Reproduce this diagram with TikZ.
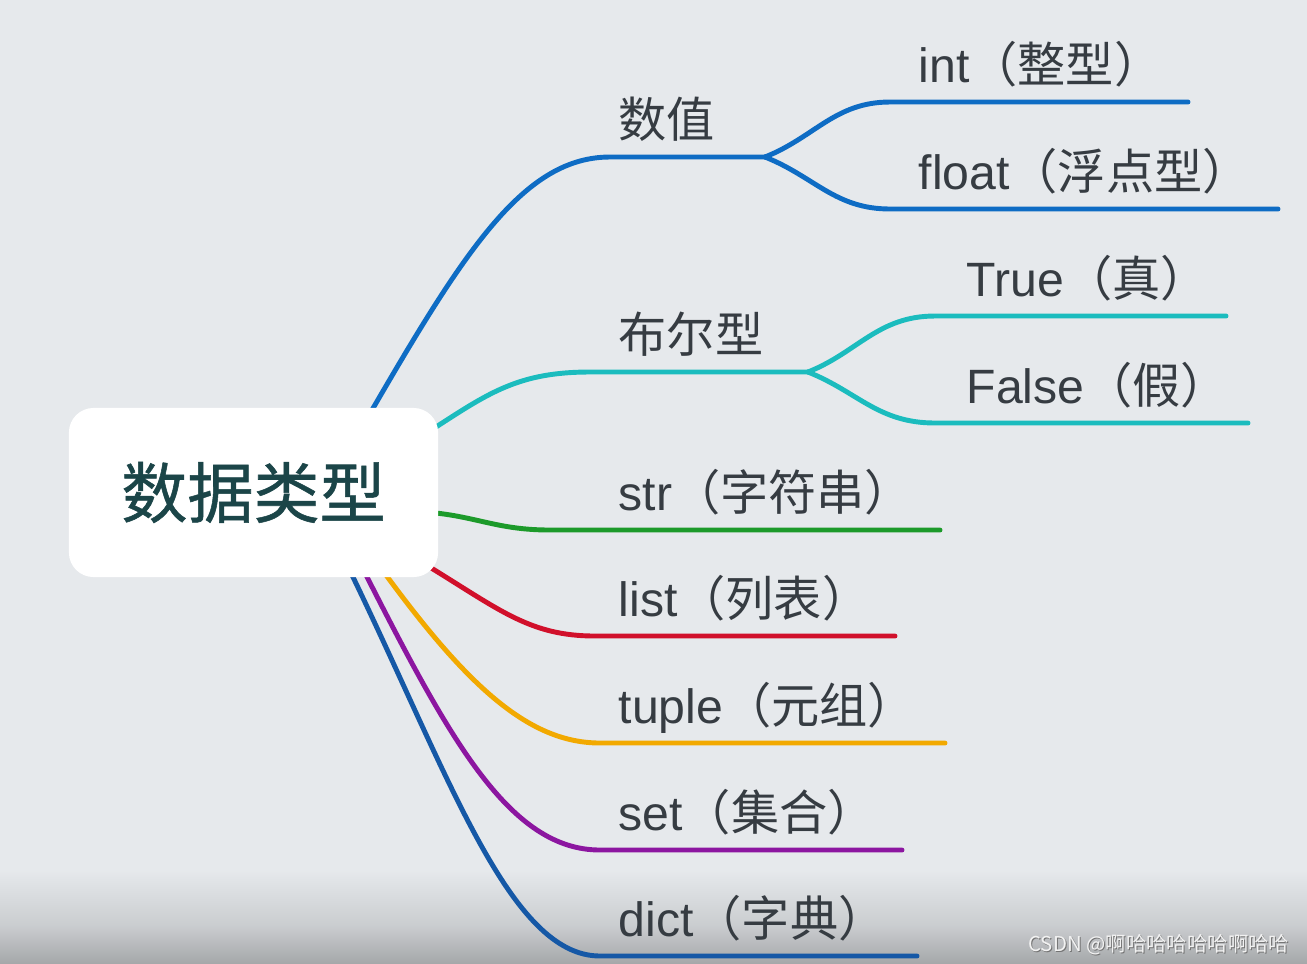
\documentclass[tikz,border=0pt]{standalone}
\usepackage{fontspec}
\setmainfont{Liberation Sans}
\newfontfamily\cjk{Noto Sans CJK SC}
\newfontfamily\rootcjk[FakeBold=0.8]{Noto Sans CJK SC}
\usepackage{tikz}
\usetikzlibrary{backgrounds}
\usepackage{xcolor}
\definecolor{bgGray}{HTML}{E6E9EC}
\definecolor{txtGray}{HTML}{363C42}
\definecolor{rootTeal}{HTML}{1B4548}
\definecolor{numBlue}{HTML}{0E6CC4}
\definecolor{boolCyan}{HTML}{1BBCBE}
\definecolor{strGreen}{HTML}{1C9A2A}
\definecolor{listRed}{HTML}{D1102B}
\definecolor{tupleOrange}{HTML}{F2A900}
\definecolor{setPurple}{HTML}{8C16A0}
\definecolor{dictBlue}{HTML}{1558A6}
\tikzset{%
	root box/.style={
		fill=white,
		rounded corners=7pt,
		minimum width=3.69cm,
		minimum height=1.69cm,
		text=rootTeal,
		font=\rootcjk\fontsize{18.8}{22}\selectfont
	},
	branch/.style={
		line width=1.4pt,
		line cap=round
	},
	branch text/.style={
		anchor=base west,
		inner sep=0pt,
		text=txtGray,
		font=\fontsize{13.7}{16}\selectfont
	},
}

\begin{document}
\begin{tikzpicture}[x=0.01cm, y=-0.01cm]
			\useasboundingbox (0,0) rectangle (1307,963);
			% Draw the background
			\begin{scope}[on background layer]
				\fill[bgGray] (0,0) rectangle (1307,963);
				\shade[top color=bgGray, bottom color=bgGray!88!black] (0,870) rectangle (1307,925);
				\shade[top color=bgGray!88!black, bottom color=bgGray!72!black] (0,925) rectangle (1307,963);
			\end{scope}
			
			% Draw the root
			\node[root box] (root) at (253.5,492.5) {数据类型};
			
			% Draw the labels
			\node[branch text] (num) at (618,137) {\cjk 数值};
			\node[branch text] (int) at (918,82) {int{\cjk（整型）}};
			\node[branch text] (float) at (918,189) {float{\cjk（浮点型）}};
			\node[branch text] (bool) at (618,352) {\cjk 布尔型};
			\node[branch text] (true) at (966,296) {True{\cjk（真）}};
			\node[branch text] (false) at (966,403) {False{\cjk（假）}};
			\node[branch text] (str) at (618,510) {str{\cjk（字符串）}};
			\node[branch text] (list) at (618,616) {list{\cjk（列表）}};
			\node[branch text] (tuple) at (618,723) {tuple{\cjk（元组）}};
			\node[branch text] (set) at (618,830) {set{\cjk（集合）}};
			\node[branch text] (dict) at (618,936) {dict{\cjk（字典）}};
			
			% Draw the branch ends
			\coordinate (numStart) at (372,410);
			\coordinate (numFork) at (765,157);
			\coordinate (intEnd) at (1188,102);
			\coordinate (floatEnd) at (1278,209);
			\coordinate (boolStart) at (436,427);
			\coordinate (boolFork) at (808,372);
			\coordinate (trueEnd) at (1226,316);
			\coordinate (falseEnd) at (1248,423);
			\coordinate (strStart) at (436,513);
			\coordinate (strEnd) at (940,530);
			\coordinate (listStart) at (428,566);
			\coordinate (listEnd) at (895,636);
			\coordinate (tupleStart) at (386,575);
			\coordinate (tupleEnd) at (945,743);
			\coordinate (setStart) at (366,575);
			\coordinate (setEnd) at (902,850);
			\coordinate (dictStart) at (352,575);
			\coordinate (dictEnd) at (917,956);
			
			% Draw the branches
			\begin{scope}[on background layer]
				\draw[branch, numBlue] (numStart) .. controls (466,248) and (525,157) .. (610,157) -- (numFork);
				\draw[branch, numBlue] (numFork) .. controls (815,137) and (835,102) .. (890,102) -- (intEnd);
				\draw[branch, numBlue] (numFork) .. controls (815,177) and (835,209) .. (890,209) -- (floatEnd);
				
				\draw[branch, boolCyan] (boolStart) .. controls (490,392) and (520,372) .. (590,372) -- (boolFork);
				\draw[branch, boolCyan] (boolFork) .. controls (858,352) and (878,316) .. (935,316) -- (trueEnd);
				\draw[branch, boolCyan] (boolFork) .. controls (858,392) and (878,423) .. (935,423) -- (falseEnd);
				
				\draw[branch, strGreen] (strStart) .. controls (480,518) and (500,530) .. (550,530) -- (strEnd);
				\draw[branch, listRed] (listStart) .. controls (500,610) and (530,636) .. (595,636) -- (listEnd);
				\draw[branch, tupleOrange] (tupleStart) .. controls (469,688) and (530,743) .. (600,743) -- (tupleEnd);
				\draw[branch, setPurple] (setStart) .. controls (450,740) and (510,850) .. (600,850) -- (setEnd);
				\draw[branch, dictBlue] (dictStart) .. controls (450,778) and (510,956) .. (600,956) -- (dictEnd);
			\end{scope}
			
			% Draw the watermark
			\node[anchor=base east, inner sep=0pt, text=black!55, font=\cjk\fontsize{5.8}{7}\selectfont] at (1291,952) {CSDN @啊哈哈哈哈哈啊哈哈};
			\node[anchor=base east, inner sep=0pt, text=white!95!black, font=\cjk\fontsize{5.8}{7}\selectfont] (mark) at (1290,951) {CSDN @啊哈哈哈哈哈啊哈哈};
			
		\end{tikzpicture}
\end{document}
